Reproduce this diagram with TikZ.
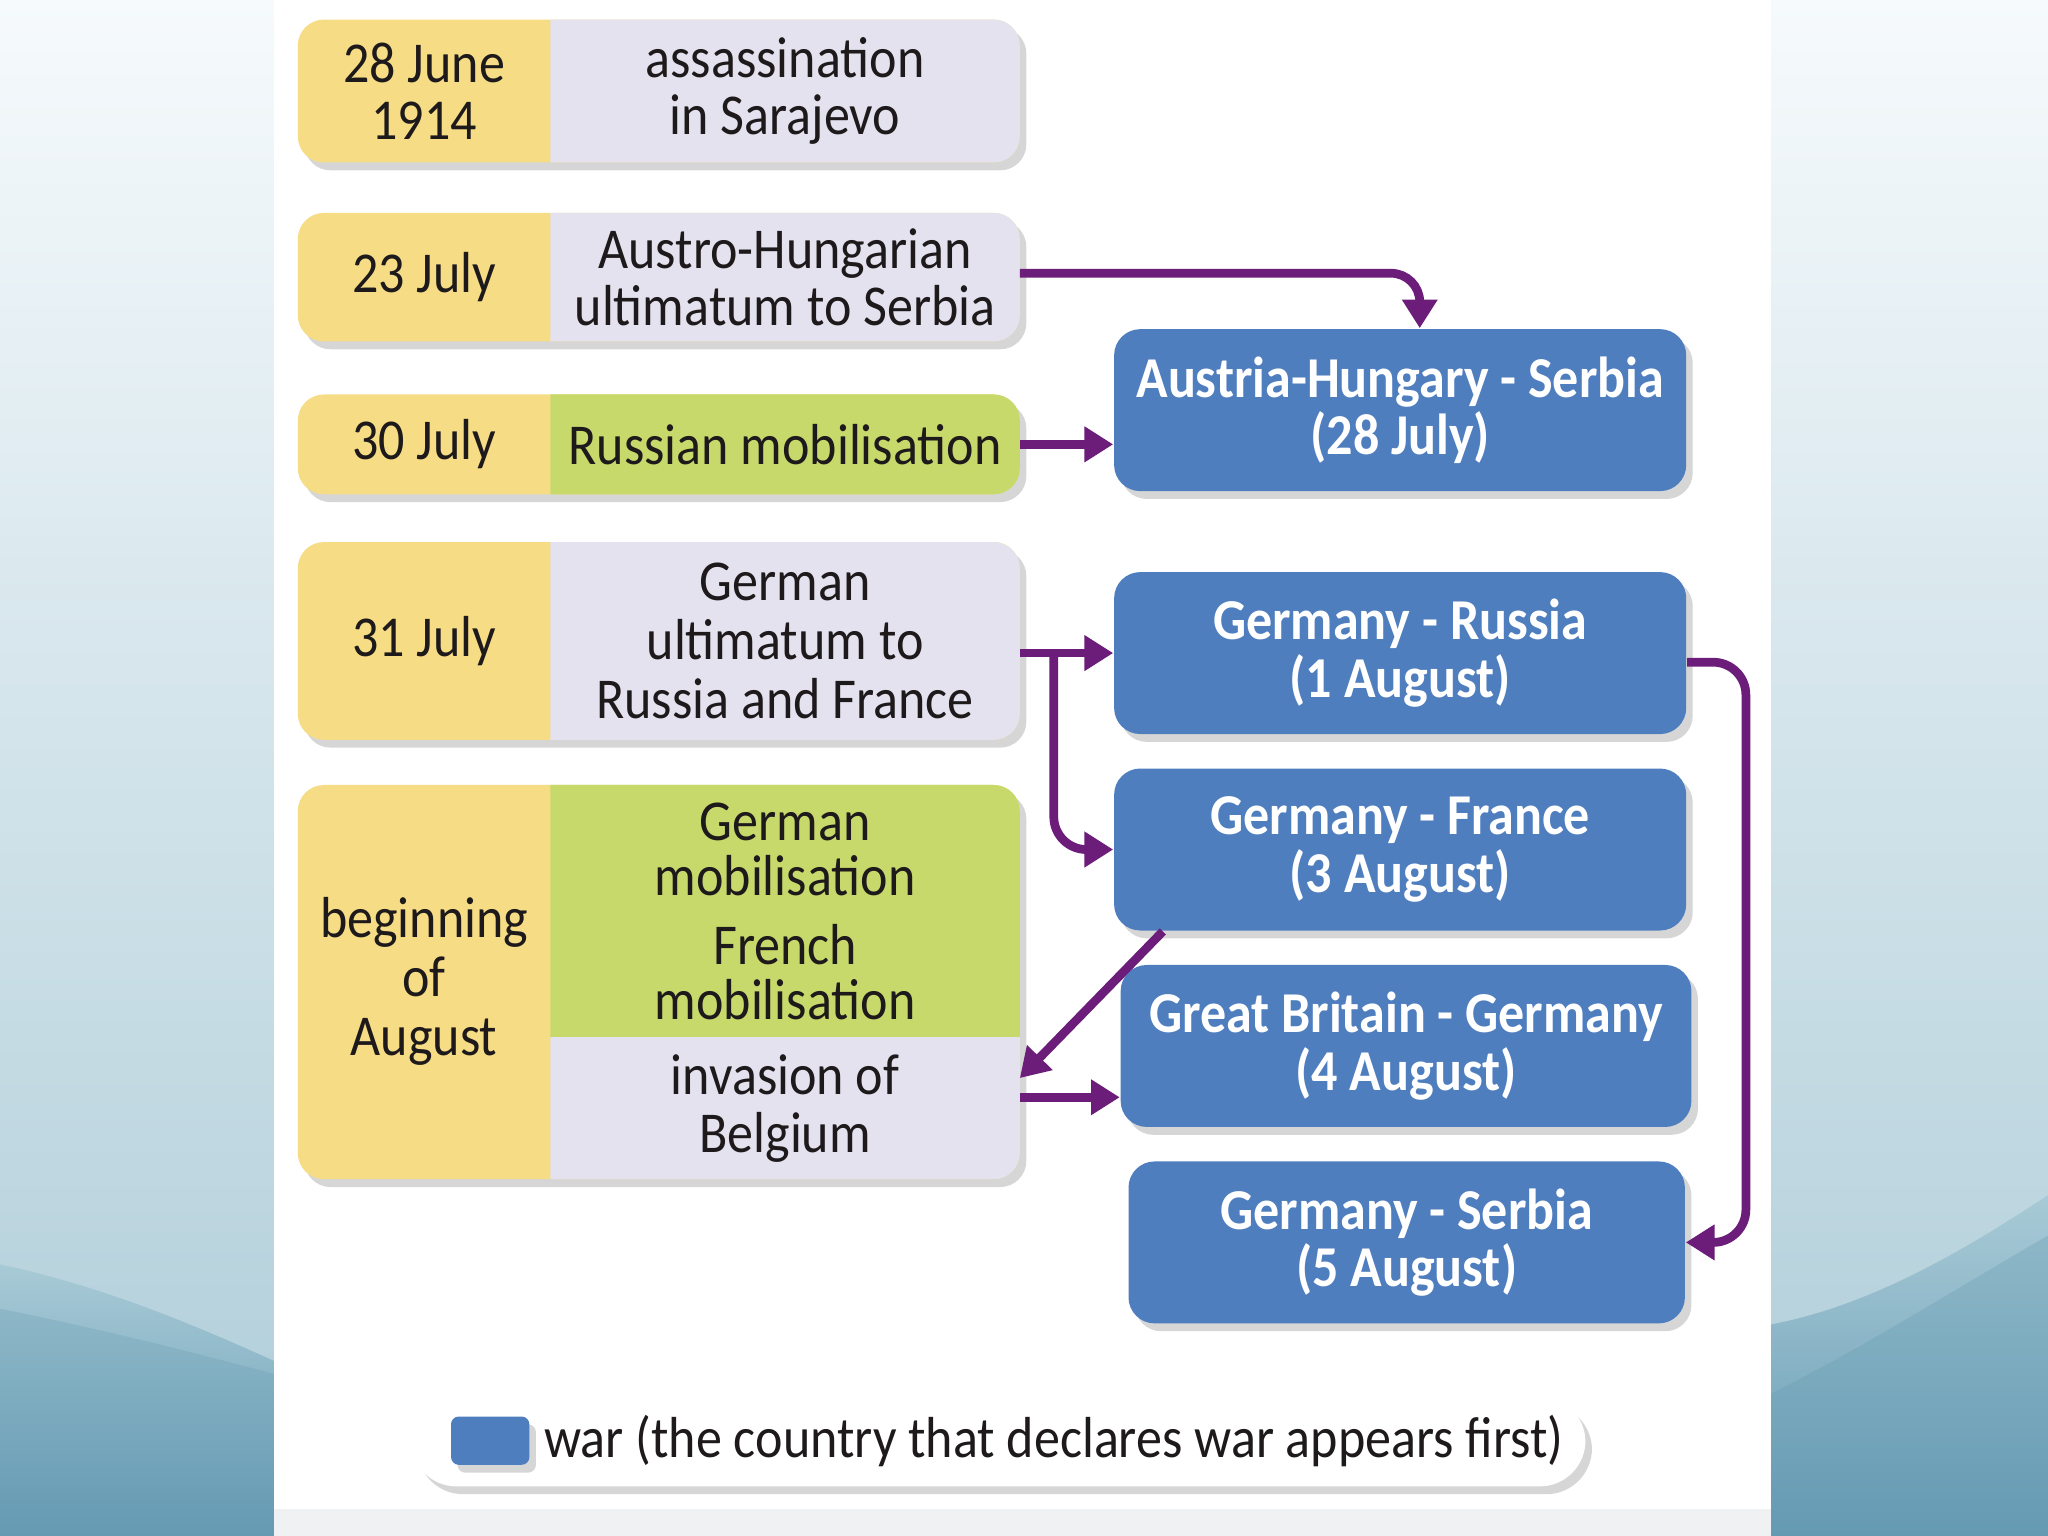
\documentclass[tikz,border=0pt]{standalone}
\usepackage{fontspec}
\setmainfont{Carlito}[FakeStretch=0.9]
\usetikzlibrary{positioning,shadows,arrows.meta,backgrounds}

\definecolor{dateyellow}{HTML}{F6DD85}
\definecolor{eventgrey}{HTML}{E4E2EF}
\definecolor{mobgreen}{HTML}{C7D96B}
\definecolor{warblue}{HTML}{4F7EBF}
\definecolor{linkpurple}{HTML}{6B1D79}
\definecolor{ink}{HTML}{1E1A1B}
\definecolor{skytop}{HTML}{F6FAFC}
\definecolor{skybottom}{HTML}{ADCCD8}
\definecolor{lightwave}{HTML}{A8CAD6}
\definecolor{midwave}{HTML}{8DB7C7}
\definecolor{deepwave}{HTML}{659AB3}
\definecolor{panelgrey}{HTML}{F0F1F3}

\begin{document}
\begin{tikzpicture}[x=0.1mm,y=-0.1mm,
  cell/.style={inner sep=0pt,align=center,text=ink,font=\fontsize{12.6}{12.3}\selectfont},
  datecell/.style={cell,minimum width=19.2mm},
  eventcell/.style={cell,minimum width=35.8mm},
  boxshadow/.style={drop shadow={shadow xshift=0.5mm,shadow yshift=-0.6mm,fill=black,opacity=0.16}},
  war/.style={fill=warblue,rounded corners=2mm,boxshadow,minimum width=43.8mm,minimum height=12.4mm,
    inner sep=0pt,align=center,text=white,font=\bfseries\fontsize{12.6}{12.5}\selectfont},
  link/.style={linkpurple,line width=1.9pt,-{Triangle[length=2.2mm,width=2.6mm]}}]
\useasboundingbox (0,0) rectangle (1568,1176);

% Dates and events
\node[datecell,minimum height=10.8mm,anchor=north west] (d1) at (228,15) {28 June\\1914};
\node[eventcell,minimum height=10.8mm,right=0pt of d1] (e1) {assassination\\in Sarajevo};
\node[datecell,minimum height=9.7mm,anchor=north west] (d2) at (228,163) {23 July};
\node[eventcell,minimum height=9.7mm,right=0pt of d2] (e2) {Austro-Hungarian\\ultimatum to Serbia};
\node[datecell,minimum height=7.5mm,anchor=north west] (d3) at (228,302) {30 July};
\node[eventcell,minimum height=7.5mm,right=0pt of d3] (e3) {Russian mobilisation};
\node[datecell,minimum height=15mm,anchor=north west] (d4) at (228,415) {31 July};
\node[eventcell,minimum height=15mm,right=0pt of d4,font=\fontsize{12.6}{12.8}\selectfont] (e4) {German\\ultimatum to\\Russia and France};
\node[datecell,minimum height=29.9mm,anchor=north west,font=\fontsize{12.6}{12.8}\selectfont] (d5) at (228,601) {beginning\\of\\August};
\node[eventcell,minimum height=19.2mm,anchor=north west,font=\fontsize{12.6}{12}\selectfont] (e5g) at (d5.north east) {German\\mobilisation\\[1.1mm]French\\mobilisation};
\node[eventcell,minimum height=10.7mm,below=0pt of e5g,font=\fontsize{12.6}{12.5}\selectfont] (e5l) {invasion of\\Belgium};

% Declarations of war
\node[war] (ahs) at (1072,314) {Austria-Hungary - Serbia\\(28 July)};
\node[war] (gr) at (1072,500) {Germany - Russia\\(1 August)};
\node[war,below=2.5mm of gr] (gf) {Germany - France\\(3 August)};
\node[war,below=2.5mm of gf,xshift=0.45mm,minimum width=43.7mm] (gb) {Great Britain - Germany\\(4 August)};
\node[war,below=2.5mm of gb,xshift=0.05mm,minimum width=42.6mm] (gs) {Germany - Serbia\\(5 August)};

% Key
\node[cell,anchor=west] (keytext) at (416,1103) {war (the country that declares war appears first)};
\node[fill=warblue,rounded corners=0.6mm,minimum width=6mm,minimum height=3.7mm,inner sep=0pt,boxshadow,left=1mm of keytext] (keysq) {};

% Links
\draw[link,rounded corners=2.2mm] ([yshift=0.3mm]e2.east) -| ([xshift=1.5mm]ahs.north);
\draw[link] (e3.east) -- (e3.east -| ahs.west);
\draw[link] (gr.west -| e4.east) -- (gr.west);
\draw[link,rounded corners=2.5mm] ([xshift=2.6mm]gr.west -| e4.east) |- (gf.west);
\draw[link] ([xshift=3.8mm]gf.south west) -- ([yshift=-3.1mm]e5l.north east);
\draw[link] ([yshift=0.85mm]e5l.east) -- ([yshift=0.85mm]e5l.east -| gb.west);
\draw[link,rounded corners=2.5mm] ([yshift=-0.7mm]gr.east) -- ++(4.5mm,0) |- (gs.east);

\begin{scope}[on background layer]
% Backdrop
\shade[top color=skytop,bottom color=skybottom] (0,0) rectangle (1568,1176);
\shade[top color=lightwave,bottom color=deepwave] (0,968) .. controls (80,985) and (150,1015) .. (210,1042) -- (210,1176) -- (0,1176) -- cycle;
\shade[top color=midwave,bottom color=deepwave] (0,1002) .. controls (80,1018) and (150,1036) .. (210,1052) -- (210,1176) -- (0,1176) -- cycle;
\shade[top color=lightwave,bottom color=deepwave] (1356,1014) .. controls (1430,1000) and (1500,960) .. (1568,915) -- (1568,1176) -- (1356,1176) -- cycle;
\shade[top color=midwave,bottom color=deepwave] (1356,1067) .. controls (1430,1030) and (1500,985) .. (1568,946) -- (1568,1176) -- (1356,1176) -- cycle;
\fill[white] (210,0) rectangle (1356,1176);
\fill[panelgrey] (210,1155) rectangle (1356,1176);

% Row boxes
\foreach \d/\e/\c in {d1/e1/eventgrey,d2/e2/eventgrey,d3/e3/mobgreen,d4/e4/eventgrey} {
  \fill[dateyellow,rounded corners=2mm,boxshadow] (\d.north west) rectangle (\e.south east);
  \begin{scope}
    \clip (\e.north west) rectangle (\e.south east);
    \fill[\c,rounded corners=2mm] (\d.north west) rectangle (\e.south east);
  \end{scope}
}
\fill[dateyellow,rounded corners=2mm,boxshadow] (d5.north west) rectangle (e5l.south east);
\begin{scope}
  \clip (e5g.north west) rectangle (e5g.south east);
  \fill[mobgreen,rounded corners=2mm] (d5.north west) rectangle (e5l.south east);
\end{scope}
\begin{scope}
  \clip (e5l.north west) rectangle (e5l.south east);
  \fill[eventgrey,rounded corners=2mm] (d5.north west) rectangle (e5l.south east);
\end{scope}

% Key frame
\fill[white,rounded corners=3.5mm,boxshadow] ([xshift=-3mm,yshift=3.4mm]keysq.west) rectangle ([xshift=1.6mm,yshift=-3.5mm]keytext.east);
\end{scope}
\end{tikzpicture}
\end{document}
